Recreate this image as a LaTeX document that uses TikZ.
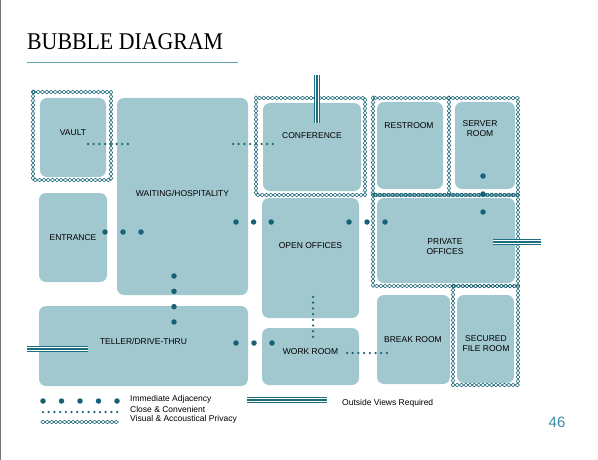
\documentclass[tikz,border=0pt]{standalone}
\usepackage{fontspec}
\setmainfont{Liberation Sans}
\newfontfamily\titlefont{Liberation Serif}
\usetikzlibrary{calc,positioning,decorations.markings}

\definecolor{roomfill}{RGB}{161,199,207}
\definecolor{dotc}{RGB}{22,98,116}
\definecolor{viewc}{RGB}{30,110,130}
\definecolor{rulec}{RGB}{95,160,180}
\definecolor{pagec}{RGB}{60,140,165}

\begin{document}
\begin{tikzpicture}[x=1pt,y=-1pt]
\tikzstyle{room node}=[rectangle,rounded corners=7pt,fill=roomfill,inner sep=0]
\tikzstyle{room text}=[font=\fontsize{8.5}{10}\selectfont,align=center,inner sep=0]

\tikzset{
	adjacent/.style={draw=dotc,line width=5.5pt,line cap=round,dash pattern=on 0pt off #1},
	adjacent/.default=18pt,
	close/.style={draw=dotc,line width=2.5pt,line cap=round,dash pattern=on 0pt off 5.7pt},
	privacy/.style={decoration={markings,mark=between positions 0 and 1 step 4.3pt with
		{\draw[dotc,line width=0.55pt] (-2.15pt,0) -- (0,1.8pt) -- (2.15pt,0) -- (0,-1.8pt) -- cycle;}},
		postaction=decorate},
	outside/.style={draw=viewc,line width=6pt,
		postaction={draw=white,line width=3.4pt},
		postaction={draw=viewc,line width=1.1pt}},
	legend text/.style={font=\fontsize{8.5}{10}\selectfont,anchor=west,inner sep=0}
}

\useasboundingbox (0,0) rectangle (598,460);
\fill[gray!110] (0,0) rectangle (1.2,460);

% title
\node[anchor=base west,inner sep=0,font=\titlefont\fontsize{24}{24}\selectfont,xscale=0.91] (title) at (27,50) {BUBBLE DIAGRAM};
\coordinate (t1) at (27,63);
\coordinate (t2) at (238,63);
\draw[rulec,line width=1pt] (t1) -- (t2);

% rooms
\node[room node,minimum width=66,minimum height=79] (vault) at (73,137.5) {};
\node[room node,minimum width=131,minimum height=197] (waiting) at (182.5,196.5) {};
\node[room node,minimum width=68,minimum height=89] (entrance) at (73,237.5) {};
\node[room node,minimum width=209,minimum height=80] (teller) at (143.5,346) {};
\node[room node,minimum width=98,minimum height=88] (conference) at (312,147) {};
\node[room node,minimum width=97,minimum height=120] (open) at (310.5,258) {};
\node[room node,minimum width=97,minimum height=57] (work) at (310.5,356.5) {};
\node[room node,minimum width=66,minimum height=87] (restroom) at (410,145.5) {};
\node[room node,minimum width=60,minimum height=87] (server) at (485,145.5) {};
\node[room node,minimum width=138,minimum height=85] (private) at (446,240.5) {};
\node[room node,minimum width=73,minimum height=89] (break) at (413.5,339.5) {};
\node[room node,minimum width=57,minimum height=88] (secured) at (485.5,339) {};

\node[room text] (vaultlabel) at ($(vault)+(0,-4.5)$) {VAULT};
\node[room text] (waitinglabel) at ($(waiting)+(0,-3.5)$) {WAITING/HOSPITALITY};
\node[room text] (entrancelabel) at ($(entrance)+(0,0.5)$) {ENTRANCE};
\node[room text] (tellerlabel) at ($(teller)+(0,-5)$) {TELLER/DRIVE-THRU};
\node[room text] (conferencelabel) at ($(conference)+(0,-11)$) {CONFERENCE};
\node[room text] (openlabel) at ($(open)+(0,-12)$) {OPEN OFFICES};
\node[room text] (worklabel) at ($(work)+(0,-4.5)$) {WORK ROOM};
\node[room text] (restroomlabel) at ($(restroom)+(-1,-19.5)$) {RESTROOM};
\node[room text] (serverlabel) at ($(server)+(-5,-16.5)$) {SERVER\\ROOM};
\node[room text] (privatelabel) at ($(private)+(-1,6.5)$) {PRIVATE\\OFFICES};
\node[room text] (breaklabel) at ($(break)+(-0.5,0.5)$) {BREAK ROOM};
\node[room text] (securedlabel) at ($(secured)+(0.5,4.5)$) {SECURED\\FILE ROOM};

% visual & accoustical privacy
\path[privacy] (33,92) rectangle (111,180);
\path[privacy] (256,98) rectangle (365,195);
\path[privacy] (373,98) rectangle (518,195);
\path[privacy] (449,98) -- (449,195);
\path[privacy] (373,195) rectangle (518,286);
\path[privacy] (453,286) rectangle (518,385);

% outside views
\coordinate (c1) at (317,75);   \coordinate (c2) at (317,123);
\coordinate (p1) at (493,242);  \coordinate (p2) at (541,242);
\coordinate (d1) at (27,349);   \coordinate (d2) at (88,349);
\draw[outside] (c1) -- (c2);
\draw[outside] (p1) -- (p2);
\draw[outside] (d1) -- (d2);

% adjacencies
\coordinate (vw1) at (88,144);   \coordinate (vw2) at (128.5,144);
\coordinate (wc1) at (233,144);  \coordinate (wc2) at (273.5,144);
\coordinate (ew1) at (105,232);  \coordinate (ew2) at (141.5,232);
\coordinate (wo1) at (236,222);  \coordinate (wo2) at (271.7,222);
\coordinate (op1) at (349,222);  \coordinate (op2) at (385.5,222);
\coordinate (sp1) at (483,176);  \coordinate (sp2) at (483,212.5);
\coordinate (wt1) at (174,276);  \coordinate (wt2) at (174,322.5);
\coordinate (tw1) at (236,343);  \coordinate (tw2) at (272.5,343);
\coordinate (ow1) at (313,297);  \coordinate (ow2) at (313,337.5);
\coordinate (wb1) at (347,353);  \coordinate (wb2) at (387.5,353);

\draw[close] (vw1) -- (vw2);
\draw[close] (wc1) -- (wc2);
\draw[adjacent] (ew1) -- (ew2);
\draw[adjacent=17.6pt] (wo1) -- (wo2);
\draw[adjacent] (op1) -- (op2);
\draw[adjacent] (sp1) -- (sp2);
\draw[adjacent=15.33pt] (wt1) -- (wt2);
\draw[adjacent] (tw1) -- (tw2);
\draw[close] (ow1) -- (ow2);
\draw[close] (wb1) -- (wb2);

% legend
\coordinate (l1) at (43,401);  \coordinate (l2) at (117.5,401);
\coordinate (l3) at (43,412);  \coordinate (l4) at (117.5,412);
\coordinate (l5) at (43,422);  \coordinate (l6) at (120,422);
\coordinate (l7) at (247,400); \coordinate (l8) at (327,400);
\draw[adjacent=18.5pt] (l1) -- (l2);
\draw[close] (l3) -- (l4);
\path[privacy] (l5) -- (l6);
\draw[outside] (l7) -- (l8);
\node[legend text] (adjtext) at (130,399) {Immediate Adjacency};
\node[legend text] (closetext) at (130,409) {Close \& Convenient};
\node[legend text] (privtext) at (130,419) {Visual \& Accoustical Privacy};
\node[legend text] (viewtext) at (342,403) {Outside Views Required};

\node[text=pagec,font=\fontsize{15}{15}\selectfont,inner sep=0] (page) at (557,422) {46};
\end{tikzpicture}
\end{document}
